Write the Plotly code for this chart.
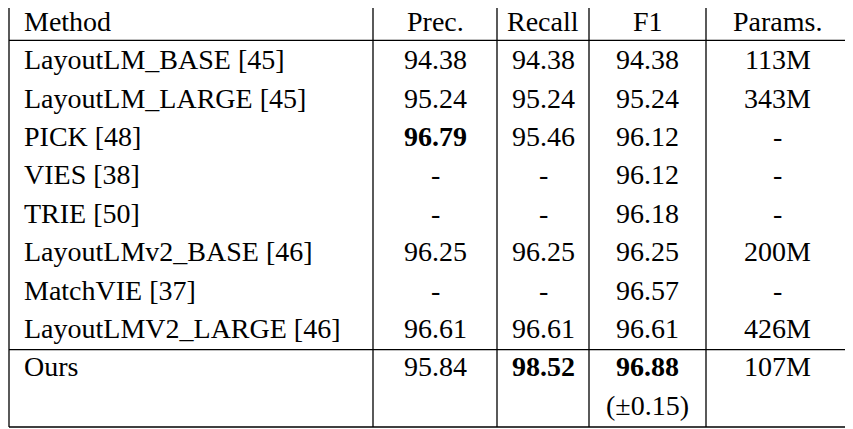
import plotly.graph_objects as go

headers = ["Method", "Prec.", "Recall", "F1", "Params."]
methods = ["LayoutLM_BASE [45]", "LayoutLM_LARGE [45]", "PICK [48]", "VIES [38]", "TRIE [50]",
           "LayoutLMv2_BASE [46]", "MatchVIE [37]", "LayoutLMV2_LARGE [46]", "Ours"]
prec = ["94.38", "95.24", "<b>96.79</b>", "-", "-", "96.25", "-", "96.61", "95.84"]
recall = ["94.38", "95.24", "95.46", "-", "-", "96.25", "-", "96.61", "<b>98.52</b>"]
f1 = ["94.38", "95.24", "96.12", "96.12", "96.18", "96.25", "96.57", "96.61", "<b>96.88</b>"]
params = ["113M", "343M", "-", "-", "-", "200M", "-", "426M", "107M"]
f1_note = "(±0.15)"

# page body has an 8px margin, so the figure is offset by 8px
W, H = 853, 429
OFF = 8
col_edges = [9, 373, 497, 589, 706, 849]
row_h = 38.4
top = 2
font = dict(family="Liberation Serif, DejaVu Serif, serif", size=28, color="black")

fig = go.Figure()
ann = []
columns = [methods, prec, recall, f1, params]
for c, head in enumerate(headers):
    cells = [head] + columns[c]
    for r, txt in enumerate(cells):
        y = top + row_h * (r + 0.5)
        if c == 0:
            ann.append(dict(x=22, y=y, text=txt, xanchor="left", showarrow=False, font=font))
        else:
            ann.append(dict(x=(col_edges[c] + col_edges[c + 1]) / 2, y=y, text=txt,
                            xanchor="center", showarrow=False, font=font))
ann.append(dict(x=(col_edges[3] + col_edges[4]) / 2, y=top + row_h * 10.5, text=f1_note,
                xanchor="center", showarrow=False, font=font))

line = dict(color="black", width=1.3)
shapes = []
bottom = H - 2
for x in col_edges:
    shapes.append(dict(type="line", x0=x, x1=x, y0=top, y1=bottom, line=line))
for y in [top, top + row_h, top + row_h * 9 + 2, bottom]:
    shapes.append(dict(type="line", x0=col_edges[0], x1=col_edges[-1], y0=y, y1=y, line=line))

fig.update_layout(
    width=W - OFF, height=H - OFF, margin=dict(l=0, r=0, t=0, b=0),
    plot_bgcolor="white", paper_bgcolor="white",
    xaxis=dict(range=[OFF, W], visible=False, fixedrange=True),
    yaxis=dict(range=[H, OFF], visible=False, fixedrange=True),
    annotations=ann, shapes=shapes, showlegend=False,
)
fig.write_html("out.html")
